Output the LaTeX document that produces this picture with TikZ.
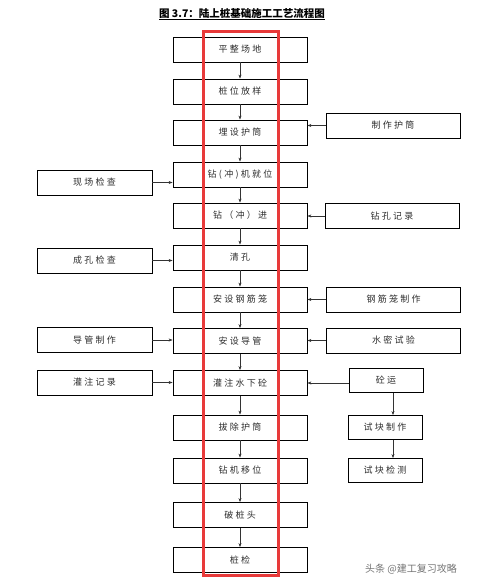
\documentclass[tikz,border=0pt]{standalone}
\usepackage{fontspec}
\usetikzlibrary{arrows.meta}
\setmainfont{Noto Sans CJK SC}
\newfontfamily\cjk[LetterSpace=25]{Noto Sans CJK SC}
\definecolor{FrameRed}{RGB}{232,58,58}
\definecolor{TextGrey}{RGB}{45,45,45}

\begin{document}
\begin{tikzpicture}[x=1pt, y=-1pt,
                every node/.style={font=\cjk\fontsize{9}{10}\selectfont, text=TextGrey},
                main/.style={draw, thick, minimum width=134pt, minimum height=25pt, inner sep=0pt, align=center},
                side/.style={draw, thick, minimum width=115pt, minimum height=25pt, inner sep=0pt, align=center},
                sideR/.style={draw, thick, minimum width=134pt, minimum height=25pt, inner sep=0pt, align=center},
                small/.style={draw, thick, minimum width=74pt, minimum height=24pt, inner sep=0pt, align=center},
                link/.style={->, >={Stealth[length=4pt, width=3pt]}, semithick, black!80}]

                \useasboundingbox (0,0) rectangle (478,586);

                % Title
                \node[font=\bfseries\fontsize{10.5}{12}\selectfont, text=black] (title) at (242,14) {\underline{图 3.7：陆上桩基础施工工艺流程图}};

                % Main column
                \node[main] (c1) at (240,49.5) {平整场地};
                \node[main] (c2) at (240,91.5) {桩位放样};
                \node[main] (c3) at (240,132.5) {埋设护筒};
                \node[main] (c4) at (240,174.5) {钻(冲)机就位};
                \node[main] (c5) at (240,215.5) {钻（冲）进};
                \node[main] (c6) at (240,257.5) {清孔};
                \node[main] (c7) at (240,299.5) {安设钢筋笼};
                \node[main] (c8) at (240,341) {安设导管};
                \node[main] (c9) at (240,383) {灌注水下砼};
                \node[main] (c10) at (240,427.5) {拔除护筒};
                \node[main] (c11) at (240,470.5) {钻机移位};
                \node[main] (c12) at (240,515) {破桩头};
                \node[main] (c13) at (240,560) {桩检};

                % Left column
                \node[side] (xcjc) at (94.5,182.5) {现场检查};
                \node[side] (ckjc) at (94.5,260.5) {成孔检查};
                \node[side] (dgzz) at (94.5,340) {导管制作};
                \node[side] (gzjl) at (94.5,382.5) {灌注记录};

                % Right column
                \node[sideR] (zzht) at (393,125.5) {制作护筒};
                \node[sideR] (zkjl) at (392,216) {钻孔记录};
                \node[sideR] (gjlz) at (393.5,299.5) {钢筋笼制作};
                \node[sideR] (msyy) at (393.5,340.5) {水密试验};
                \node[small] (tong) at (386,380.5) {砼运};
                \node[small] (skzz) at (385,427.5) {试块制作};
                \node[small] (skjc) at (385,470.5) {试块检测};

                % Red frame
                \draw[FrameRed, line width=3pt] (203,32) rectangle (278,575);

                % Edges
                \draw[link] (c1) -- (c2);
                \draw[link] (c2) -- (c3);
                \draw[link] (c3) -- (c4);
                \draw[link] (c4) -- (c5);
                \draw[link] (c5) -- (c6);
                \draw[link] (c6) -- (c7);
                \draw[link] (c7) -- (c8);
                \draw[link] (c8) -- (c9);
                \draw[link] (c9) -- (c10);
                \draw[link] (c10) -- (c11);
                \draw[link] (c11) -- (c12);
                \draw[link] (c12) -- (c13);

                \draw[link] (xcjc) -- (xcjc -| c4.west);
                \draw[link] (ckjc) -- (ckjc -| c6.west);
                \draw[link] (dgzz) -- (dgzz -| c8.west);
                \draw[link] (gzjl) -- (gzjl -| c9.west);

                \draw[link] (zzht) -- (zzht -| c3.east);
                \draw[link] (zkjl) -- (zkjl -| c5.east);
                \draw[link] (gjlz) -- (gjlz -| c7.east);
                \draw[link] (msyy) -- (msyy -| c8.east);
                \draw[link] ([yshift=-2.5pt]tong.west) -- ([yshift=-2.5pt]tong.west -| c9.east);
                \draw[link] ([xshift=7pt]tong.south) -- ([xshift=7pt]tong.south |- skzz.north);
                \draw[link] ([xshift=8pt]skzz.south) -- ([xshift=8pt]skzz.south |- skjc.north);

                % Watermark
                \node[font=\fontsize{10}{12}\selectfont, text=black!55] (mark) at (411,569) {头条 @建工复习攻略};
            \end{tikzpicture}
\end{document}
